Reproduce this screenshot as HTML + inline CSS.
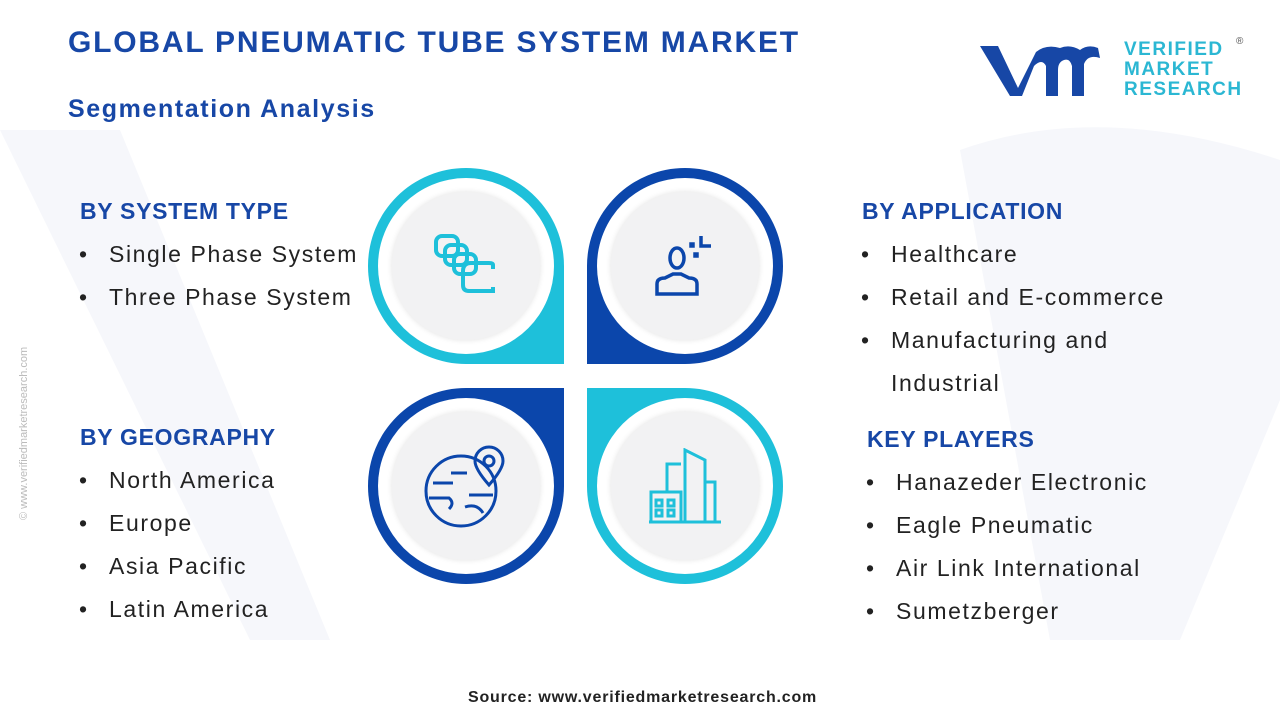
<!DOCTYPE html>
<html><head><meta charset="utf-8"><style>
*{margin:0;padding:0;box-sizing:border-box}
body{width:1280px;height:720px;background:#fff;font-family:"Liberation Sans",sans-serif;position:relative;overflow:hidden}
.t{position:absolute;white-space:nowrap}
.h1{left:68px;top:26px;font-size:30px;font-weight:bold;color:#1747a6;letter-spacing:1.8px}
.h2{left:68px;top:95px;font-size:25px;font-weight:bold;color:#1747a6;letter-spacing:1.6px}
.sh{font-size:23px;font-weight:bold;color:#1747a6;letter-spacing:0.7px}
.li{font-size:23px;color:#222;letter-spacing:1.6px}
.li:before{content:"•";position:absolute;left:-30px}
.shape{position:absolute;width:196px;height:196px;border-radius:50%}
.w{position:absolute;left:10px;top:10px;right:10px;bottom:10px;border-radius:50%;background:#fff}
.g{position:absolute;left:24px;top:24px;right:24px;bottom:24px;border-radius:50%;background:#f2f2f3;box-shadow:0 0 6px rgba(0,0,0,.12)}
.c{background:#1ec0da}.d{background:#0b46ab}
.ic{position:absolute;left:50%;top:50%;transform:translate(-50%,-50%)}
</style></head><body>
<svg style="position:absolute;left:0;top:0" width="1280" height="720"><path d="M0 130 L120 130 L330 640 L250 640 Z M960 150 Q1100 100 1280 160 L1280 400 L1180 640 L1050 640 Z" fill="#f6f7fb"/></svg>
<div class="t h1">GLOBAL PNEUMATIC TUBE SYSTEM MARKET</div>
<div class="t h2">Segmentation Analysis</div>
<svg style="position:absolute;left:976px;top:40px" width="140" height="60"><path d="M4 6 L22 6 L42 48 L60 12 Q70 4 84 8 Q94 4 104 10 Q112 4 122 8 L124 18 Q112 14 108 24 L108 56 L96 56 L96 26 Q94 18 88 20 Q82 22 82 30 L82 56 L70 56 L70 26 Q66 18 58 26 L46 56 L34 56 Z" fill="#1747a6"/></svg>
<div class="t" style="left:1124px;top:40px;font-size:19px;font-weight:bold;color:#2bb7d3;line-height:20px;letter-spacing:1.5px">VERIFIED<br>MARKET<br>RESEARCH</div>
<div class="t" style="left:1236px;top:36px;font-size:10px;color:#555">®</div>
<div class="t" style="left:18px;top:520px;transform:rotate(-90deg);transform-origin:0 0;font-size:11px;color:#bbb">© www.verifiedmarketresearch.com</div>

<div class="shape c" style="left:368px;top:168px;border-bottom-right-radius:0"><div class="w"></div><div class="g"><svg class="ic" width="66" height="66" viewBox="0 0 66 66" fill="none" stroke="#1ec0da" stroke-width="4"><rect x="3" y="3" width="22" height="20" rx="6"/><rect x="12" y="12" width="22" height="20" rx="6"/><rect x="21" y="21" width="22" height="20" rx="6"/><path d="M60 36 L60 32 Q60 30 56 30 L38 30 Q30 30 30 38 L30 52 Q30 58 36 58 L60 58 L60 54"/></svg></div></div>
<div class="shape d" style="left:587px;top:168px;border-bottom-left-radius:0"><div class="w"></div><div class="g"><svg class="ic" width="64" height="64" viewBox="0 0 64 64" fill="none" stroke="#0b46ab" stroke-width="3.5"><ellipse cx="24" cy="24" rx="7" ry="10"/><path d="M4 60 L4 50 Q4 44 12 44 L20 40 L28 40 L36 44 Q44 44 44 50 L44 60 Z"/><path d="M48 2 L48 12 L58 12"/><rect x="38" y="10" width="2" height="2"/><rect x="42" y="20" width="2" height="2"/></svg></div></div>
<div class="shape d" style="left:368px;top:388px;border-top-right-radius:0"><div class="w"></div><div class="g"><svg class="ic" width="86" height="86" viewBox="0 0 86 86" fill="none" stroke="#0b46ab" stroke-width="3"><circle cx="38" cy="48" r="35"/><path d="M10 40 L30 40 M28 30 L44 30 M6 55 L26 55 Q32 60 26 66 M46 52 L70 52 M42 64 Q54 60 60 70"/><path d="M66 42 Q52 26 52 18 A14 14 0 0 1 80 18 Q80 26 66 42 Z"/><circle cx="66" cy="18" r="5"/></svg></div></div>
<div class="shape c" style="left:587px;top:388px;border-top-left-radius:0"><div class="w"></div><div class="g"><svg class="ic" width="76" height="76" viewBox="0 0 76 76" fill="none" stroke="#1ec0da" stroke-width="3"><path d="M2 74 L74 74 M4 74 L4 44 L34 44 L34 74 M20 44 L20 16 L34 16 M38 74 L38 2 L58 12 L58 74 M58 34 L68 34 L68 74"/><rect x="9" y="52" width="6" height="6"/><rect x="21" y="52" width="6" height="6"/><rect x="9" y="62" width="6" height="6"/><rect x="21" y="62" width="6" height="6"/></svg></div></div>

<div class="t sh" style="left:80px;top:198px">BY SYSTEM TYPE</div>
<div class="t li" style="left:109px;top:241px">Single Phase System</div>
<div class="t li" style="left:109px;top:284px">Three Phase System</div>
<div class="t sh" style="left:80px;top:424px">BY GEOGRAPHY</div>
<div class="t li" style="left:109px;top:467px">North America</div>
<div class="t li" style="left:109px;top:510px">Europe</div>
<div class="t li" style="left:109px;top:553px">Asia Pacific</div>
<div class="t li" style="left:109px;top:596px">Latin America</div>
<div class="t sh" style="left:862px;top:198px">BY APPLICATION</div>
<div class="t li" style="left:891px;top:241px">Healthcare</div>
<div class="t li" style="left:891px;top:284px">Retail and E-commerce</div>
<div class="t li" style="left:891px;top:327px">Manufacturing and</div>
<div class="t" style="left:891px;top:370px;font-size:23px;color:#222;letter-spacing:1.6px">Industrial</div>
<div class="t sh" style="left:867px;top:426px">KEY PLAYERS</div>
<div class="t li" style="left:896px;top:469px">Hanazeder Electronic</div>
<div class="t li" style="left:896px;top:512px">Eagle Pneumatic</div>
<div class="t li" style="left:896px;top:555px">Air Link International</div>
<div class="t li" style="left:896px;top:598px">Sumetzberger</div>
<div class="t" style="left:468px;top:689px;font-size:16px;font-weight:bold;color:#222;letter-spacing:0.8px">Source: www.verifiedmarketresearch.com</div>
</body></html>
